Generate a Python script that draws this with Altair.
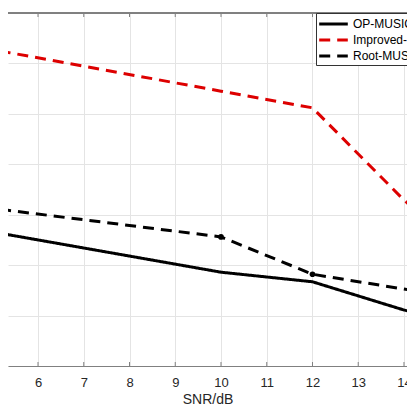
import altair as alt
import pandas as pd

# ---- data ----
snr_ticks = [6, 7, 8, 9, 10, 11, 12, 13, 14]
y_grid = [0, 1, 2, 3, 4, 5, 6, 7]
series = ["OP-MUSIC", "Improved-MUSIC", "Root-MUSIC"]
op_x = [4, 10, 12, 14, 16]
op_y = [2.82, 1.86, 1.67, 1.11, 0.65]
imp_x = [4, 10, 12, 14, 16]
imp_y = [6.44, 5.45, 5.12, 3.29, 1.74]
root_x = [4, 10, 12, 16]
root_y = [3.24, 2.56, 1.82, 1.23]

rows = []
for name, xs, ys in zip(series, [op_x, imp_x, root_x], [op_y, imp_y, root_y]):
    for x, y in zip(xs, ys):
        rows.append({"snr": x, "val": y, "method": name})
df = pd.DataFrame(rows)
root_df = df[df["method"] == "Root-MUSIC"]
ticks_df = pd.DataFrame({"snr": snr_ticks})

W, H = 399, 353
FONT = "Liberation Sans"
AXC = "#808080"

xscale = alt.Scale(domain=[5.344, 14.066], nice=False, zero=False)
yscale = alt.Scale(domain=[0, 7], nice=False, zero=False)

legend = alt.Legend(
    title=None, orient="none", legendX=308, legendY=0,
    symbolType="M-1.2,0H3.2", symbolSize=169, symbolStrokeWidth=3,
    fillColor="white", strokeColor="#333333", padding=3, rowPadding=2,
    labelFontSize=12, labelFont=FONT, labelColor="#000000", labelOffset=18,
)

color = alt.Color("method:N", sort=series,
                  scale=alt.Scale(domain=series, range=["#000000", "#dd0000", "#000000"]),
                  legend=legend)
dash = alt.StrokeDash("method:N", sort=series,
                      scale=alt.Scale(domain=series, range=[[1, 0], [11, 7], [11, 7]]),
                      legend=legend)

x_axis = alt.Axis(values=snr_ticks, title="SNR/dB", grid=True, gridColor="#e4e4e4",
                  ticks=False, domainColor=AXC, labelFont=FONT, labelFontSize=13,
                  labelColor="#262626", labelPadding=10, titleFont=FONT,
                  titleFontSize=14, titleFontWeight="normal", titleColor="#262626",
                  titlePadding=3)
y_axis = alt.Axis(values=y_grid, title=None, labels=False, ticks=False, domain=False,
                  grid=True, gridColor="#e4e4e4")

X = alt.X("snr:Q", scale=xscale, axis=x_axis)
Y = alt.Y("val:Q", scale=yscale, axis=y_axis)

lines = alt.Chart(df).mark_line(strokeWidth=3, clip=True).encode(
    x=X, y=Y, color=color, strokeDash=dash, order="snr:Q",
)

points = alt.Chart(root_df).mark_point(filled=True, size=32, color="#000000",
                                       opacity=1, clip=True).encode(x=X, y=Y)

top_line = alt.Chart(ticks_df).mark_rule(color=AXC, strokeWidth=1).encode(
    x=alt.value(0), x2=alt.value(W), y=alt.value(0)
)

top_ticks = alt.Chart(ticks_df).mark_rule(color=AXC, strokeWidth=1).encode(
    x=X, y=alt.value(0), y2=alt.value(4)
)
bottom_ticks = alt.Chart(ticks_df).mark_rule(color=AXC, strokeWidth=1).encode(
    x=X, y=alt.value(H), y2=alt.value(H - 4)
)

chart = alt.layer(lines, points, top_line, top_ticks, bottom_ticks).properties(
    width=W, height=H,
    autosize=alt.AutoSizeParams(type="none"),
    padding={"left": 0, "top": 5, "right": 0, "bottom": 41},
    background="white",
).configure_view(stroke=None)

chart.save("out.html", embed_options={"renderer": "svg", "actions": False})
